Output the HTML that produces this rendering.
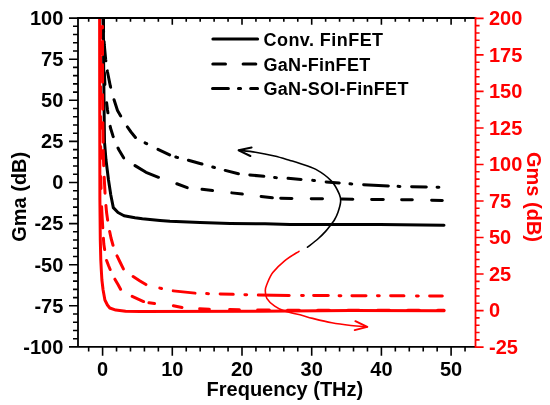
<!DOCTYPE html>
<html><head><meta charset="utf-8"><title>Gma / Gms vs Frequency</title>
<style>html,body{margin:0;padding:0;background:#fff;}svg{display:block}</style></head>
<body><svg width="550" height="405" viewBox="0 0 550 405">
<rect width="550" height="405" fill="#fff"/>
<path d="M69,346.9H78M73,338.68H78M73,330.46H78M73,322.24H78M73,314.02H78M69,305.8H78M73,297.58H78M73,289.36H78M73,281.14H78M73,272.92H78M69,264.7H78M73,256.48H78M73,248.26H78M73,240.04H78M73,231.82H78M69,223.6H78M73,215.38H78M73,207.16H78M73,198.94H78M73,190.72H78M69,182.5H78M73,174.28H78M73,166.06H78M73,157.84H78M73,149.62H78M69,141.4H78M73,133.18H78M73,124.96H78M73,116.74H78M73,108.52H78M69,100.3H78M73,92.08H78M73,83.86H78M73,75.64H78M73,67.42H78M69,59.2H78M73,50.98H78M73,42.76H78M73,34.54H78M73,26.32H78M69,18.1H78M88.66,346.8V351.5M88.66,18V21.7M102.6,346.8V355.8M102.6,18V24.8M116.54,346.8V351.5M116.54,18V21.7M130.48,346.8V351.5M130.48,18V21.7M144.42,346.8V351.5M144.42,18V21.7M158.36,346.8V351.5M158.36,18V21.7M172.3,346.8V355.8M172.3,18V24.8M186.24,346.8V351.5M186.24,18V21.7M200.18,346.8V351.5M200.18,18V21.7M214.12,346.8V351.5M214.12,18V21.7M228.06,346.8V351.5M228.06,18V21.7M242,346.8V355.8M242,18V24.8M255.94,346.8V351.5M255.94,18V21.7M269.88,346.8V351.5M269.88,18V21.7M283.82,346.8V351.5M283.82,18V21.7M297.76,346.8V351.5M297.76,18V21.7M311.7,346.8V355.8M311.7,18V24.8M325.64,346.8V351.5M325.64,18V21.7M339.58,346.8V351.5M339.58,18V21.7M353.52,346.8V351.5M353.52,18V21.7M367.46,346.8V351.5M367.46,18V21.7M381.4,346.8V355.8M381.4,18V24.8M395.34,346.8V351.5M395.34,18V21.7M409.28,346.8V351.5M409.28,18V21.7M423.22,346.8V351.5M423.22,18V21.7M437.16,346.8V351.5M437.16,18V21.7M451.1,346.8V355.8M451.1,18V24.8M465.04,346.8V351.5M465.04,18V21.7" stroke="#000" stroke-width="1.6" fill="none"/>
<path d="M475.5,347.13H483.6M475.5,339.83H479.6M475.5,332.52H479.6M475.5,325.21H479.6M475.5,317.91H479.6M475.5,310.6H483.6M475.5,303.29H479.6M475.5,295.99H479.6M475.5,288.68H479.6M475.5,281.37H479.6M475.5,274.07H483.6M475.5,266.76H479.6M475.5,259.45H479.6M475.5,252.15H479.6M475.5,244.84H479.6M475.5,237.54H483.6M475.5,230.23H479.6M475.5,222.92H479.6M475.5,215.62H479.6M475.5,208.31H479.6M475.5,201H483.6M475.5,193.7H479.6M475.5,186.39H479.6M475.5,179.08H479.6M475.5,171.78H479.6M475.5,164.47H483.6M475.5,157.16H479.6M475.5,149.86H479.6M475.5,142.55H479.6M475.5,135.24H479.6M475.5,127.94H483.6M475.5,120.63H479.6M475.5,113.32H479.6M475.5,106.02H479.6M475.5,98.71H479.6M475.5,91.41H483.6M475.5,84.1H479.6M475.5,76.79H479.6M475.5,69.49H479.6M475.5,62.18H479.6M475.5,54.87H483.6M475.5,47.57H479.6M475.5,40.26H479.6M475.5,32.95H479.6M475.5,25.65H479.6M475.5,18.34H483.6" stroke="#ff0000" stroke-width="1.6" fill="none"/>
<defs><clipPath id="c"><rect x="78" y="18" width="397.5" height="328.8"/></clipPath></defs>
<g clip-path="url(#c)" fill="none" stroke-width="3" stroke-linecap="round" stroke-linejoin="round">
<path d="M103.3,5 L103.6,60 L104.1,110 L104.5,142 L106,160 L108.5,180 L110.8,195 L113.3,207.6 L118,212.5 L124,215.8 L135,217.8 L142.4,218.8 L160,220.5 L170,221.3 L200,222.6 L230,223.5 L265,223.8 L290,224.5 L380,224.5 L444,225.3" stroke="#000"/>
<path d="M103.2,5 L103.4,40 L104.2,70 L105.2,90 L106.3,100 L107.5,110 L109,120 L110.5,128 L113,136 L116,144 L119,150 L124,158.5 L134,165 L146,172.3 L160,177.9 L175.3,183.2 L189,188.3 L200.4,189.1 L214.2,190.7 L230.2,192.7 L244,194.2 L259.5,196.3 L274,198 L293.6,198.5 L324.2,198.8 L354.5,199.3 L385.5,199.6 L413.8,199.8 L444,200.6" stroke="#000" stroke-dasharray="11.70 18.30 11.70 18.30 11.70 18.30 10.17 13.80 10.75 12.31 11.33 13.91 26.26 19.49 11.07 14.97 10.59 19.42 10.58 18.94 11.31 8.38 11.21 19.30 11.30 19.10 11.20 18.80 11.71 18.30 10.71 19.29 10.70 534.37" stroke-dashoffset="-7.79"/>
<path d="M103.3,5 L103.5,30 L104.3,45 L105.7,60 L107.5,72 L110.3,86 L113.5,98 L117.5,110.5 L121.5,117.4 L126.4,125.6 L131,132 L136.5,138.8 L145.9,143.3 L156.3,148.5 L171,155.6 L176.7,157.3 L187,159.8 L200,163.5 L213.6,167.3 L223.6,170 L240,174.2 L248.2,174.8 L264.5,176.4 L275.5,177.6 L286.4,178.2 L302.7,179.6 L313.6,180.4 L324.5,181.8 L340.9,183.1 L352,184 L362,184.6 L390,186 L399,186.4 L410,186.6 L428,187 L444,187.3" stroke="#000" stroke-dasharray="1.18 10.00 15.50 10.00 19.25 10.14 16.67 12.96 17.67 12.85 13.28 11.22 1.80 12.60 12.93 6.57 1.80 11.18 14.12 11.13 1.80 11.11 13.63 11.50 14.09 10.82 1.80 11.67 13.06 11.68 1.80 11.74 13.15 10.76 1.80 11.90 24.73 9.76 1.80 11.75 14.70 10.75 1.80 505.56" stroke-dashoffset="-0.00"/>
<path d="M99.6,5 L99.7,100 L99.9,200 L100.3,240 L100.8,260 L101.3,270 L101.9,280 L103.1,290 L104.9,300 L107.4,305 L109.8,308 L115.8,310.1 L125.6,311.3 L140,311.5 L260,311.2 L350,310.6 L444,310.7" stroke="#ff0000"/>
<path d="M100.6,5 L100.6,100 L100.8,180 L101.5,205 L102.3,220 L103,232 L103.8,244 L105,252 L106.4,260 L108.5,265.5 L110.8,271.1 L114.5,278.5 L118,284.5 L121.2,290.4 L131,295.8 L145,302.2 L156.2,303.8 L172.7,305.6 L185.8,308.3 L197.8,308.8 L212,309.2 L241.5,309.9 L300,310.2 L444,310.3" stroke="#ff0000" stroke-dasharray="3.39 18.30 11.70 18.30 11.70 18.30 11.70 18.30 11.70 18.30 11.70 18.30 11.70 18.30 21.20 10.42 11.33 11.18 9.72 10.76 11.54 13.80 12.55 5.58 5.64 18.97 8.73 17.78 9.71 20.30 9.70 18.30 11.70 18.30 11.70 18.30 11.70 18.30 11.70 18.30 11.70 18.30 11.70 18.30 6.36 665.26" stroke-dashoffset="-0.00"/>
<path d="M102.4,5 L102.5,60 L102.6,100 L103.2,150 L103.8,170 L104.6,185 L105.4,200 L106.6,212.8 L108.5,226 L111,238 L113.5,247 L116.3,254.3 L120,262 L124.1,270.4 L131.6,275.6 L140,281 L147.3,285.4 L160.7,288.3 L171.6,290.7 L196.7,293.3 L218.5,294 L234.9,294.4 L256.7,295.1 L300,295.5 L350,295.7 L444,296" stroke="#ff0000" stroke-dasharray="1.80 10.00 1.80 13.05 13.70 9.80 17.70 12.30 14.70 13.30 19.70 8.20 15.22 11.50 15.94 12.34 14.77 11.56 14.17 11.32 14.54 12.59 15.08 14.40 1.80 11.93 21.93 11.64 1.80 11.67 13.10 11.66 1.80 11.65 30.90 12.35 1.80 10.25 14.70 10.75 1.80 11.05 14.10 11.45 1.80 11.35 13.30 12.55 1.80 11.35 12.70 643.63" stroke-dashoffset="-9.50"/>
</g>
<g fill="none" stroke-width="1.6" stroke-linecap="round" stroke-linejoin="round">
<path d="M238.80,150.30 C241.58,150.62 249.55,151.25 255.50,152.20 C261.45,153.15 268.75,154.63 274.50,156.00 C280.25,157.37 285.75,159.15 290.00,160.40 C294.25,161.65 295.68,162.00 300.00,163.50 C304.32,165.00 310.65,166.47 315.90,169.40 C321.15,172.33 327.60,176.98 331.50,181.10 C335.40,185.22 337.78,190.63 339.30,194.10 C340.82,197.57 340.82,198.88 340.60,201.90 C340.38,204.92 339.03,209.18 338.00,212.20 C336.97,215.22 335.62,217.88 334.40,220.00 C333.18,222.12 332.13,223.05 330.70,224.90 C329.27,226.75 327.85,228.83 325.80,231.10 C323.75,233.37 321.45,235.82 318.40,238.50 C315.35,241.18 309.32,245.75 307.50,247.20" stroke="#000"/>
<path d="M251.6,147.5L238.6,150.3L250.4,156" stroke="#000" stroke-width="2"/>
<path d="M299.00,251.30 C296.60,252.88 288.97,257.25 284.60,260.80 C280.23,264.35 275.77,268.65 272.80,272.60 C269.83,276.55 268.05,281.53 266.80,284.50 C265.55,287.47 265.30,288.10 265.30,290.40 C265.30,292.70 265.23,295.67 266.80,298.30 C268.37,300.93 271.73,304.07 274.70,306.20 C277.67,308.33 280.38,309.67 284.60,311.10 C288.82,312.53 295.32,313.58 300.00,314.80 C304.68,316.02 307.40,317.07 312.70,318.40 C318.00,319.73 325.43,321.62 331.80,322.80 C338.17,323.98 345.03,324.82 350.90,325.50 C356.77,326.18 364.32,326.67 367.00,326.90" stroke="#ff0000"/>
<path d="M355.4,321.2L367.3,326.9L354.7,330.1" stroke="#ff0000" stroke-width="2"/>
</g>
<path d="M78,346.8V18H475.5M78,346.8H475.5" stroke="#000" stroke-width="1.8" fill="none"/>
<path d="M475.5,17.1V347.7" stroke="#ff0000" stroke-width="1.8" fill="none"/>
<g style="font-family:'Liberation Sans',Arial,sans-serif;font-weight:bold;font-size:20px" fill="#000"><text x="63.3" y="353.7" text-anchor="end">-100</text><text x="63.3" y="312.6" text-anchor="end">-75</text><text x="63.3" y="271.5" text-anchor="end">-50</text><text x="63.3" y="230.4" text-anchor="end">-25</text><text x="63.3" y="189.3" text-anchor="end">0</text><text x="63.3" y="148.2" text-anchor="end">25</text><text x="63.3" y="107.1" text-anchor="end">50</text><text x="63.3" y="66" text-anchor="end">75</text><text x="63.3" y="24.9" text-anchor="end">100</text><text x="102.6" y="376.4" text-anchor="middle">0</text><text x="172.3" y="376.4" text-anchor="middle">10</text><text x="242" y="376.4" text-anchor="middle">20</text><text x="311.7" y="376.4" text-anchor="middle">30</text><text x="381.4" y="376.4" text-anchor="middle">40</text><text x="451.1" y="376.4" text-anchor="middle">50</text></g>
<g style="font-family:'Liberation Sans',Arial,sans-serif;font-weight:bold;font-size:20px" fill="#ff0000"><text x="489" y="353.93">-25</text><text x="489" y="317.4">0</text><text x="489" y="280.87">25</text><text x="489" y="244.34">50</text><text x="489" y="207.8">75</text><text x="489" y="171.27">100</text><text x="489" y="134.74">125</text><text x="489" y="98.21">150</text><text x="489" y="61.67">175</text><text x="489" y="25.14">200</text></g>
<text transform="translate(25.5,196.8) rotate(-90)" text-anchor="middle" style="font-family:'Liberation Sans',Arial,sans-serif;font-weight:bold;font-size:20px" fill="#000">Gma (dB)</text>
<text transform="translate(527,197) rotate(90)" text-anchor="middle" style="font-family:'Liberation Sans',Arial,sans-serif;font-weight:bold;font-size:20px" fill="#ff0000">Gms (dB)</text>
<text x="284.9" y="395.5" text-anchor="middle" style="font-family:'Liberation Sans',Arial,sans-serif;font-weight:bold;font-size:20px" fill="#000">Frequency (THz)</text>
<g fill="none" stroke="#000" stroke-width="3" stroke-linecap="round">
<path d="M212.9,39H257.6"/>
<path d="M212.8,63.9H257.6" stroke-dasharray="12.7 17.6"/>
<path d="M212.5,88.4H257.6" stroke-dasharray="15.9 10 2.2 10"/>
</g>
<g style="font-family:'Liberation Sans',Arial,sans-serif;font-weight:bold;font-size:18px;letter-spacing:0.3px" fill="#000">
<text x="263.5" y="46" letter-spacing="0.45">Conv. FinFET</text>
<text x="263.5" y="70.6">GaN-FinFET</text>
<text x="263.5" y="95.2">GaN-SOI-FinFET</text>
</g>
</svg></body></html>
